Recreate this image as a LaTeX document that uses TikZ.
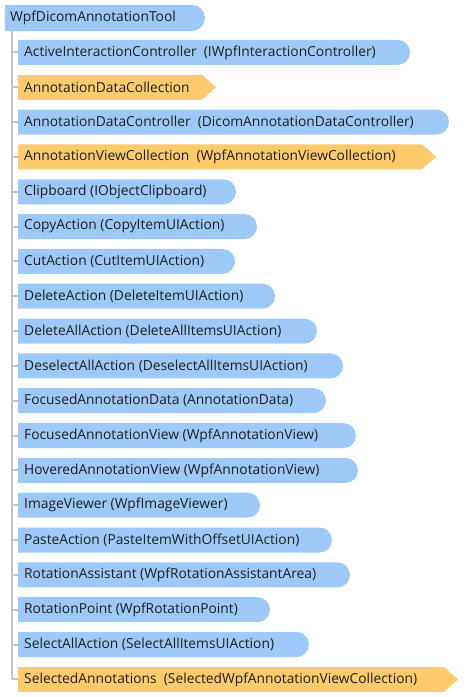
\documentclass[tikz,border=0pt]{standalone}
\usepackage{fontspec}
\setmainfont{Open Sans}
\usepackage{tikz}
\definecolor{propblue}{HTML}{9CC9F8}
\definecolor{collorange}{HTML}{FDCA6C}
\definecolor{treegray}{HTML}{C4C4C4}

\begin{document}
\begin{tikzpicture}[x=1pt,y=1pt,font=\fontsize{13.8}{16}\selectfont,
    every node/.style={inner sep=0pt,text=black!88},
    lbl/.style={anchor=west,inner xsep=6pt,minimum height=25pt},
    trunk/.style={treegray,line width=2pt}]
  \useasboundingbox (0,0) rectangle (474,-697);
  %%%%% THE ROOT
  \fill[propblue] (5,-5) -- (192,-5) arc[start angle=90,end angle=-90,radius=13pt] -- (5,-31) -- cycle;
  \node[lbl,inner xsep=5pt,minimum height=26pt] (root) at (5,-18) {WpfDicomAnnotationTool};
  %%%%% THE MEMBERS
  \foreach \txt/\xr/\kind [count=\i] in {
      ActiveInteractionController\ \ (IWpfInteractionController)/410/0,
      AnnotationDataCollection/216/1,
      AnnotationDataController\ \ (DicomAnnotationDataController)/449/0,
      AnnotationViewCollection\ \ (WpfAnnotationViewCollection)/436/1,
      Clipboard (IObjectClipboard)/236/0,
      CopyAction (CopyItemUIAction)/257/0,
      CutAction (CutItemUIAction)/235/0,
      DeleteAction (DeleteItemUIAction)/275/0,
      DeleteAllAction (DeleteAllItemsUIAction)/317/0,
      DeselectAllAction (DeselectAllItemsUIAction)/343/0,
      FocusedAnnotationData (AnnotationData)/326/0,
      FocusedAnnotationView (WpfAnnotationView)/356/0,
      HoveredAnnotationView (WpfAnnotationView)/358/0,
      ImageViewer (WpfImageViewer)/260/0,
      PasteAction (PasteItemWithOffsetUIAction)/332/0,
      RotationAssistant (WpfRotationAssistantArea)/350/0,
      RotationPoint (WpfRotationPoint)/270/0,
      SelectAllAction (SelectAllItemsUIAction)/309/0,
      SelectedAnnotations\ \ (SelectedWpfAnnotationViewCollection)/458/1}{
    \pgfmathsetmacro\yc{-17.6-34.83*\i}
    \ifnum\kind=0
      \fill[propblue] (18,\yc+12.5) -- (\xr-12.5,\yc+12.5) arc[start angle=90,end angle=-90,radius=12.5pt] -- (18,\yc-12.5) -- cycle;
    \else
      \fill[collorange] (18,\yc+12.5) -- (\xr-14,\yc+12.5) -- (\xr,\yc) -- (\xr-14,\yc-12.5) -- (18,\yc-12.5) -- cycle;
    \fi
    \node[lbl] (m\i) at (18,\yc) {\txt};
    % link from the trunk
    \draw[trunk] ([xshift=-6pt]m\i.west) -- (m\i.west);
  }
  %%%% THE TRUNK
  \draw[trunk] ([xshift=7pt]root.south west) -- ([xshift=-6pt]m19.west);
\end{tikzpicture}
\end{document}
